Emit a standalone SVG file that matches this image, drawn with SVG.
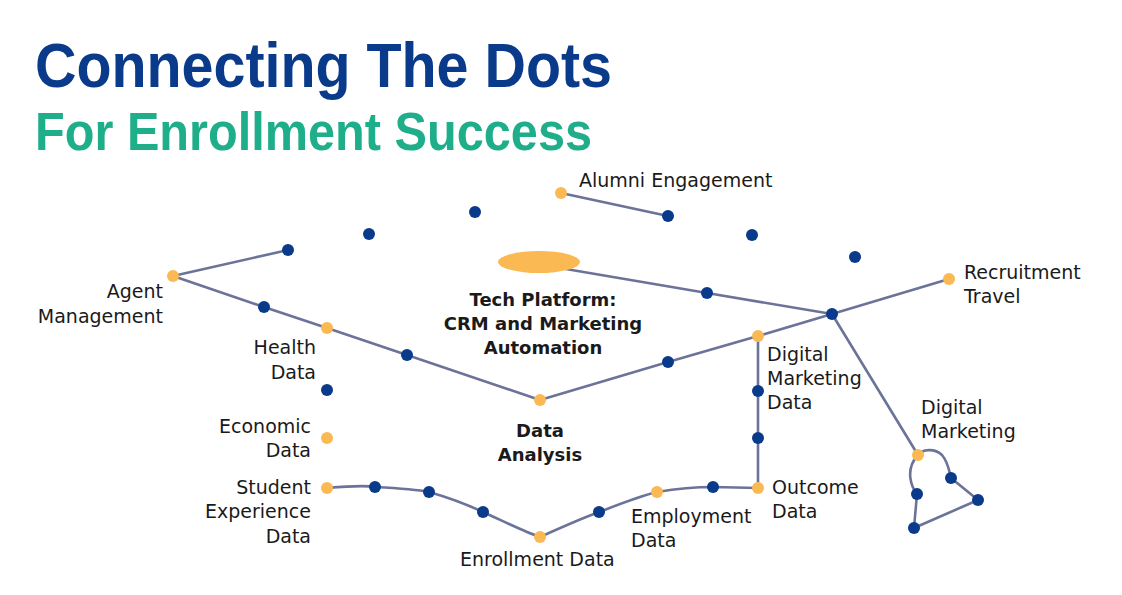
<svg xmlns="http://www.w3.org/2000/svg" width="1122" height="595" viewBox="0 0 1122 595">
<style>
.ln{fill:none;stroke:#6b7399;stroke-width:2.6;stroke-linecap:round;stroke-linejoin:round}
.n{fill:#0a3a8a}
.y{fill:#fbb954}
.lb{font-family:"DejaVu Sans",sans-serif;font-size:19px;fill:#1a1a1a}
.bd{font-family:"DejaVu Sans",sans-serif;font-size:18px;font-weight:bold;fill:#1a1a1a;text-anchor:middle}
.e{text-anchor:end}
</style>
<rect width="1122" height="595" fill="#ffffff"/>
<g id="title">
<text x="35" y="87" font-family="Liberation Sans,Arial,sans-serif" font-weight="bold" font-size="63" fill="#0a3a8a" textLength="577" lengthAdjust="spacingAndGlyphs">Connecting The Dots</text>
<text x="35" y="150" font-family="Liberation Sans,Arial,sans-serif" font-weight="bold" font-size="53" fill="#1fae8a" textLength="557" lengthAdjust="spacingAndGlyphs">For Enrollment Success</text>
</g>
<g id="connectors">
<polyline class="ln" points="288,250 173,276 264,307 327,328 407,355 540,400 668,362 758,336 832,314 949,279"/>
<line class="ln" x1="561" y1="193" x2="668" y2="216"/>
<polyline class="ln" points="560,268 707,293 832,314"/>
<line class="ln" x1="832" y1="314" x2="918" y2="455"/>
<line class="ln" x1="758" y1="336" x2="758" y2="488"/>
<path class="ln" d="M327,488 C350,486 370,486 375,487 C395,488 415,489 429,492 C450,498 468,505 483,512 C505,522 525,532 540,537 C560,528 580,519 599,512 C620,504 640,496 657,492 C675,489 695,487 713,487 L758,488"/>
<path class="ln" d="M918,455 C922,449 935,448 942,455 C948,462 949,470 951,478 L978,500 L914,528 L917,494 C912,488 904,470 918,455 Z"/>
</g>
<g id="dots">
<circle class="n" cx="288" cy="250" r="6"/>
<circle class="n" cx="369" cy="234" r="6"/>
<circle class="n" cx="475" cy="212" r="6"/>
<circle class="n" cx="668" cy="216" r="6"/>
<circle class="n" cx="752" cy="235" r="6"/>
<circle class="n" cx="855" cy="257" r="6"/>
<circle class="n" cx="707" cy="293" r="6"/>
<circle class="n" cx="832" cy="314" r="6"/>
<circle class="n" cx="264" cy="307" r="6"/>
<circle class="n" cx="407" cy="355" r="6"/>
<circle class="n" cx="668" cy="362" r="6"/>
<circle class="n" cx="758" cy="391" r="6"/>
<circle class="n" cx="758" cy="438" r="6"/>
<circle class="n" cx="327" cy="390" r="6"/>
<circle class="n" cx="375" cy="487" r="6"/>
<circle class="n" cx="429" cy="492" r="6"/>
<circle class="n" cx="483" cy="512" r="6"/>
<circle class="n" cx="599" cy="512" r="6"/>
<circle class="n" cx="713" cy="487" r="6"/>
<circle class="n" cx="951" cy="478" r="6"/>
<circle class="n" cx="978" cy="500" r="6"/>
<circle class="n" cx="917" cy="494" r="6"/>
<circle class="n" cx="914" cy="528" r="6"/>
</g>
<g id="tech-platform">
<ellipse class="y" cx="539" cy="262" rx="41" ry="11"/>
<text class="bd"><tspan x="543" y="306">Tech Platform:</tspan><tspan x="543" y="330">CRM and Marketing</tspan><tspan x="543" y="354">Automation</tspan></text>
</g>
<g id="agent-management">
<circle class="y" cx="173" cy="276" r="6"/>
<text class="lb e"><tspan x="163" y="298">Agent</tspan><tspan x="163" y="323">Management</tspan></text>
</g>
<g id="alumni-engagement">
<circle class="y" cx="561" cy="193" r="6"/>
<text class="lb" x="579" y="187">Alumni Engagement</text>
</g>
<g id="recruitment-travel">
<circle class="y" cx="949" cy="279" r="6"/>
<text class="lb"><tspan x="964" y="279">Recruitment</tspan><tspan x="964" y="303">Travel</tspan></text>
</g>
<g id="health-data">
<circle class="y" cx="327" cy="328" r="6"/>
<text class="lb e"><tspan x="316" y="354">Health</tspan><tspan x="316" y="379">Data</tspan></text>
</g>
<g id="data-analysis">
<circle class="y" cx="540" cy="400" r="6"/>
<text class="bd"><tspan x="540" y="437">Data</tspan><tspan x="540" y="461">Analysis</tspan></text>
</g>
<g id="digital-marketing-data">
<circle class="y" cx="758" cy="336" r="6"/>
<text class="lb"><tspan x="767" y="361">Digital</tspan><tspan x="767" y="385">Marketing</tspan><tspan x="767" y="409">Data</tspan></text>
</g>
<g id="economic-data">
<circle class="y" cx="327" cy="438" r="6"/>
<text class="lb e"><tspan x="311" y="433">Economic</tspan><tspan x="311" y="457">Data</tspan></text>
</g>
<g id="student-experience-data">
<circle class="y" cx="327" cy="488" r="6"/>
<text class="lb e"><tspan x="311" y="494">Student</tspan><tspan x="311" y="518">Experience</tspan><tspan x="311" y="543">Data</tspan></text>
</g>
<g id="enrollment-data">
<circle class="y" cx="540" cy="537" r="6"/>
<text class="lb" x="460" y="566">Enrollment Data</text>
</g>
<g id="employment-data">
<circle class="y" cx="657" cy="492" r="6"/>
<text class="lb"><tspan x="631" y="523">Employment</tspan><tspan x="631" y="547">Data</tspan></text>
</g>
<g id="outcome-data">
<circle class="y" cx="758" cy="488" r="6"/>
<text class="lb"><tspan x="772" y="494">Outcome</tspan><tspan x="772" y="518">Data</tspan></text>
</g>
<g id="digital-marketing">
<circle class="y" cx="918" cy="455" r="6"/>
<text class="lb"><tspan x="921" y="414">Digital</tspan><tspan x="921" y="438">Marketing</tspan></text>
</g>
</svg>
